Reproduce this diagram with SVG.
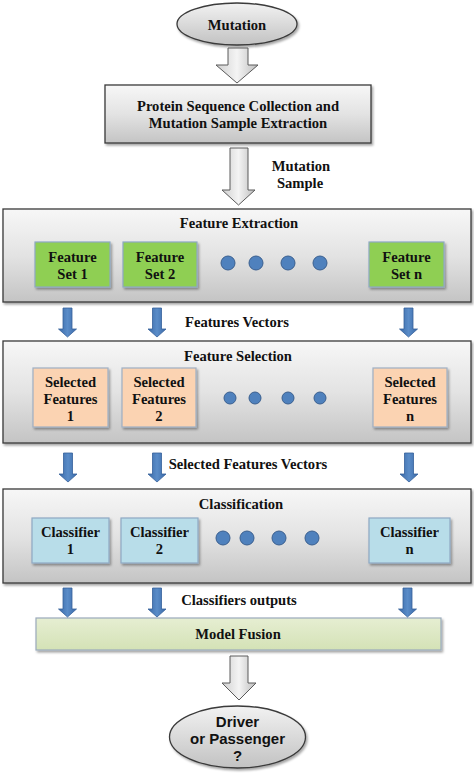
<svg xmlns="http://www.w3.org/2000/svg" width="474" height="775" viewBox="0 0 474 775">
<defs>
<linearGradient id="gGray" x1="0" y1="0" x2="0" y2="1">
<stop offset="0" stop-color="#f7f7f7"/><stop offset="0.5" stop-color="#e3e3e3"/><stop offset="1" stop-color="#c4c4c4"/>
</linearGradient>
<linearGradient id="gEll" x1="0" y1="0" x2="0" y2="1">
<stop offset="0" stop-color="#f2f2f2"/><stop offset="1" stop-color="#c2c2c2"/>
</linearGradient>
<linearGradient id="gArrow" x1="0" y1="0" x2="1" y2="0">
<stop offset="0" stop-color="#cfcfcf"/><stop offset="0.5" stop-color="#f4f4f4"/><stop offset="1" stop-color="#bdbdbd"/>
</linearGradient>
<linearGradient id="gBlue" x1="0" y1="0" x2="1" y2="0">
<stop offset="0" stop-color="#3a6aa8"/><stop offset="0.5" stop-color="#5a8cc8"/><stop offset="1" stop-color="#3a6aa8"/>
</linearGradient>
<linearGradient id="gFusion" x1="0" y1="0" x2="0" y2="1">
<stop offset="0" stop-color="#e6eed2"/><stop offset="1" stop-color="#d4e2b6"/>
</linearGradient>
<filter id="sh" x="-10%" y="-10%" width="130%" height="140%">
<feDropShadow dx="1.5" dy="2" stdDeviation="1.2" flood-color="#000" flood-opacity="0.35"/>
</filter>
<path id="blueArrow" d="M-4.5,0 L4.5,0 L4.5,21 L9,21 L0,29 L-9,21 L-4.5,21 Z"/>
<style>
.t{font-family:"Liberation Serif","Times New Roman",serif;font-weight:bold;font-size:14.6px;fill:#111;text-anchor:middle}
.s{font-family:"Liberation Sans",Arial,sans-serif;font-weight:bold;font-size:15px;fill:#111;text-anchor:middle}
.cont{fill:url(#gGray);stroke:#3a3a3a;stroke-width:1.3;filter:url(#sh)}
.ell{fill:url(#gEll);stroke:#3a3a3a;stroke-width:1.3;filter:url(#sh)}
.green{fill:#8fcf52;stroke:#8ea8c4;stroke-width:1.2;filter:url(#sh)}
.orange{fill:#fbd3b2;stroke:#9fb0c4;stroke-width:1.2;filter:url(#sh)}
.lblue{fill:#b8dde9;stroke:#8ea8c4;stroke-width:1.2;filter:url(#sh)}
.fusion{fill:url(#gFusion);stroke:#9aaabb;stroke-width:1.2;filter:url(#sh)}
.dot{fill:#4f81bd;stroke:#3a5f8f;stroke-width:1}
.bigArrow{fill:url(#gArrow);stroke:#5a5a5a;stroke-width:1}
.ba{fill:url(#gBlue);stroke:#35609a;stroke-width:0.8}
</style>
</defs>
<rect width="474" height="775" fill="#ffffff"/>

<g id="mutation">
<ellipse class="ell" cx="237" cy="24" rx="60" ry="21"/>
<text class="t" x="237" y="30">Mutation</text>
</g>

<g id="protein">
<rect class="cont" x="105" y="85" width="266" height="58"/>
<text class="t" x="238" y="111">Protein Sequence Collection and</text>
<text class="t" x="238" y="128">Mutation Sample Extraction</text>
</g>

<g id="featureExtraction">
<rect class="cont" x="3" y="209" width="468" height="93"/>
<text class="t" x="239" y="228">Feature Extraction</text>
</g>
<g id="fs1"><rect class="green" x="35" y="242" width="75" height="45"/><text class="t" x="72.5" y="262">Feature</text><text class="t" x="72.5" y="279">Set 1</text></g>
<g id="fs2"><rect class="green" x="123" y="242" width="74" height="45"/><text class="t" x="160" y="262">Feature</text><text class="t" x="160" y="279">Set 2</text></g>
<g id="fsn"><rect class="green" x="369" y="242" width="75" height="45"/><text class="t" x="406.5" y="262">Feature</text><text class="t" x="406.5" y="279">Set n</text></g>
<g id="dots1">
<circle class="dot" cx="228" cy="263" r="7"/><circle class="dot" cx="256" cy="263" r="7"/><circle class="dot" cx="288" cy="263" r="7"/><circle class="dot" cx="320" cy="263" r="7"/>
</g>

<g id="featureSelection">
<rect class="cont" x="3" y="341" width="468" height="102"/>
<text class="t" x="238" y="361">Feature Selection</text>
</g>
<g id="sf1"><rect class="orange" x="33" y="368" width="75" height="59"/><text class="t" x="70.5" y="387">Selected</text><text class="t" x="70.5" y="404">Features</text><text class="t" x="70.5" y="421">1</text></g>
<g id="sf2"><rect class="orange" x="122" y="368" width="74" height="59"/><text class="t" x="159" y="387">Selected</text><text class="t" x="159" y="404">Features</text><text class="t" x="159" y="421">2</text></g>
<g id="sfn"><rect class="orange" x="373" y="368" width="74" height="59"/><text class="t" x="410" y="387">Selected</text><text class="t" x="410" y="404">Features</text><text class="t" x="410" y="421">n</text></g>
<g id="dots2">
<circle class="dot" cx="230" cy="398" r="6"/><circle class="dot" cx="255" cy="398" r="6"/><circle class="dot" cx="288" cy="398" r="6"/><circle class="dot" cx="320" cy="398" r="6"/>
</g>

<g id="classification">
<rect class="cont" x="3" y="489" width="468" height="94"/>
<text class="t" x="241" y="509">Classification</text>
</g>
<g id="c1"><rect class="lblue" x="32" y="518" width="77" height="45"/><text class="t" x="70.5" y="537">Classifier</text><text class="t" x="70.5" y="554">1</text></g>
<g id="c2"><rect class="lblue" x="121" y="518" width="77" height="45"/><text class="t" x="159.5" y="537">Classifier</text><text class="t" x="159.5" y="554">2</text></g>
<g id="cn"><rect class="lblue" x="369" y="518" width="81" height="45"/><text class="t" x="409.5" y="537">Classifier</text><text class="t" x="409.5" y="554">n</text></g>
<g id="dots3">
<circle class="dot" cx="223" cy="538" r="7"/><circle class="dot" cx="247" cy="538" r="7"/><circle class="dot" cx="279" cy="538" r="7"/><circle class="dot" cx="312" cy="538" r="7"/>
</g>

<g id="modelFusion">
<rect class="fusion" x="36" y="618" width="405" height="32"/>
<text class="t" x="238" y="639">Model Fusion</text>
</g>

<g id="output">
<ellipse class="ell" cx="237.5" cy="737" rx="68" ry="31"/>
<text class="s" x="237.5" y="727">Driver</text>
<text class="s" x="237.5" y="744">or Passenger</text>
<text class="s" x="237.5" y="761">?</text>
</g>

<g id="connectors">
<path class="bigArrow" d="M228,48 L248,48 L248,65 L258,65 L237,83 L216,65 L228,65 Z"/>
<path class="bigArrow" d="M230,148 L248,148 L248,190 L255,190 L238.5,205 L222,190 L230,190 Z"/>
<path class="bigArrow" d="M230,656 L248,656 L248,683 L256,683 L239,700 L222,683 L230,683 Z"/>
<use href="#blueArrow" class="ba" x="67.5" y="308"/>
<use href="#blueArrow" class="ba" x="157" y="308"/>
<use href="#blueArrow" class="ba" x="408.5" y="308"/>
<use href="#blueArrow" class="ba" x="68" y="453"/>
<use href="#blueArrow" class="ba" x="157" y="453"/>
<use href="#blueArrow" class="ba" x="409" y="453"/>
<use href="#blueArrow" class="ba" x="67.5" y="588"/>
<use href="#blueArrow" class="ba" x="157" y="588"/>
<use href="#blueArrow" class="ba" x="407.5" y="588"/>
</g>

<g id="labels">
<text class="t" x="301" y="171">Mutation</text>
<text class="t" x="300" y="188">Sample</text>
<text class="t" x="237" y="327">Features Vectors</text>
<text class="t" x="248" y="469">Selected Features Vectors</text>
<text class="t" x="239" y="605">Classifiers outputs</text>
</g>
</svg>
